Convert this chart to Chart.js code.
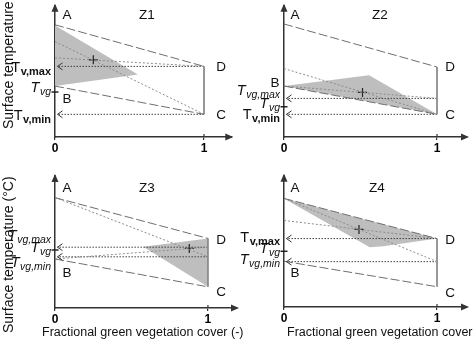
<!DOCTYPE html>
<html>
<head>
<meta charset="utf-8">
<script src="https://cdn.jsdelivr.net/npm/chart.js@4"></script>
<style>
html, body { margin: 0; padding: 0; background: #fff; }
#wrap { position: relative; width: 474px; height: 347px; overflow: hidden; }
.panel { position: absolute; }
</style>
</head>
<body>
<div id="wrap">
  <div class="panel" style="left:0;top:170px"><canvas id="c2"></canvas></div>
  <div class="panel" style="left:0;top:0"><canvas id="c0"></canvas></div>
  <div class="panel" style="left:237px;top:0"><canvas id="c1"></canvas></div>
  <div class="panel" style="left:237px;top:170px"><canvas id="c3"></canvas></div>
</div>
<script>
// ---- data (fractional cover on x, surface temperature in arbitrary units on y) ----
const panelNames = ['Z1', 'Z2', 'Z3', 'Z4'];
const fvTicks = [0, 1];
const tMax = 33;

// trapezoid corners: A (fv=0, dry), D (fv=1, dry), C (fv=1, wet), B (fv=0, wet)
const tA = [28.2, 28.4, 27.6, 27.3];
const tD = [17.75, 17.6, 17.4, 17.2];
const tC = [5.7, 5.7, 5.3, 5.1];
const tB = [12.8, 12.8, 12.25, 11.5];

// shaded areas, [fv, T] vertices
const shadeZ1 = [[0, 28.0], [0.556, 15.7], [0, 12.8]];
const shadeZ2 = [[0, 12.8], [0.556, 15.5], [1, 5.7]];
const shadeZ3 = [[0.577, 15.3], [1, 17.4], [1, 5.3]];
const shadeZ4 = [[0, 27.3], [1, 17.2], [0.65, 15.25], [0.56, 15.0]];

// dotted construction lines, pairs of [fv, T]
const guideZ1 = [[[0, 24.0], [1, 5.7]], [[0, 19.9], [1, 17.75]]];
const guideZ2 = [[[0, 17.2], [1, 5.7]], [[0, 12.8], [1, 9.7]]];
const guideZ3 = [[[0, 27.6], [1, 12.8]], [[0, 12.25], [1, 15.2]]];
const guideZ4 = [[[0, 21.75], [1, 17.2]], [[0, 27.3], [1, 11.4]]];

// temperatures read back onto the T axis
const arrowZ1 = [17.75, 5.7];
const arrowZ2 = [9.7, 5.7];
const arrowZ3 = [15.2, 12.8];
const arrowZ4 = [17.2, 11.4];

const tvgTick = [11.3, 7.6, 14.5, 14.0];
const crossFv = [0.257, 0.513, 0.878, 0.49];
const crossT = [19.4, 11.2, 14.9, 19.5];

const tLabelKinds = [['vmax', 'vg', 'vmin'], ['vgmax', 'vg', 'vmin'], ['vgmax', 'vg', 'vgmin'], ['vmax', 'vg', 'vgmin']];
const cornerNames = ['A', 'Z', 'D', 'C', 'B'];

const shades = [shadeZ1, shadeZ2, shadeZ3, shadeZ4];
const guides = [guideZ1, guideZ2, guideZ3, guideZ4];
const arrows = [arrowZ1, arrowZ2, arrowZ3, arrowZ4];

// ---- layout (page pixels) ----
const boxLeft = [0, 237, 0, 237];
const boxTop = [0, 0, 170, 170];
const boxW = [237, 237, 250, 237];
const boxH = [170, 170, 177, 177];
const padL = [55, 47, 55, 47];
const padT = [5, 5, 6, 5];
const padR = [1, 7, 13, 7];
const axisH = [33, 33, 39, 40];
const xMax = [1.183, 1.196, 1.19, 1.196];
const tLabelY = [[67, 87, 115], [90, 103, 114], [235, 247, 262], [237, 248, 259]];
const letterPos = [
  [[67, 15], [147, 15], [221, 67], [221, 115], [67, 99]],
  [[295, 15], [380, 15], [450, 67], [450, 115], [275, 83]],
  [[67, 188], [147, 188], [221, 240], [221, 292], [67, 273]],
  [[295, 188], [377, 188], [450, 240], [450, 293], [295, 273]]
];

const FONT = '"Liberation Sans", Arial, Helvetica, sans-serif';
const AXIS = '#333';

function pts(list) {
  return list.map(p => ({x: p[0], y: p[1]}));
}

function drawTLabel(ctx, kind, xr, yc) {
  const italic = kind.startsWith('vg');
  const sub = {vmax: 'v,max', vmin: 'v,min', vg: 'vg', vgmax: 'vg,max', vgmin: 'vg,min'}[kind];
  const mainFont = (italic ? 'italic ' : '') + '14.5px ' + FONT;
  const subFont = italic ? 'italic 10.5px ' + FONT : 'bold 11px ' + FONT;
  ctx.font = subFont;
  const ws = ctx.measureText(sub).width;
  ctx.font = mainFont;
  const wt = ctx.measureText('T').width;
  ctx.textAlign = 'left';
  ctx.textBaseline = 'alphabetic';
  const x0 = xr - ws - wt - 0.5;
  ctx.fillText('T', x0, yc + 5);
  ctx.font = subFont;
  ctx.fillText(sub, x0 + wt + 0.5, yc + 8);
}

const decor = {
  id: 'decor',
  afterDatasetsDraw(chart) {
    const i = chart.options.plugins.decor.panel;
    const {ctx, chartArea: ca} = chart;
    const xs = chart.scales.x, ys = chart.scales.y;
    const ox = boxLeft[i], oy = boxTop[i];
    ctx.save();
    ctx.fillStyle = AXIS;
    // axis arrowheads
    ctx.beginPath();
    ctx.moveTo(ca.left, ca.top - 2);
    ctx.lineTo(ca.left - 3.5, ca.top + 6);
    ctx.lineTo(ca.left + 3.5, ca.top + 6);
    ctx.closePath();
    ctx.fill();
    ctx.beginPath();
    ctx.moveTo(ca.right + 2, ca.bottom);
    ctx.lineTo(ca.right - 6, ca.bottom - 3.5);
    ctx.lineTo(ca.right - 6, ca.bottom + 3.5);
    ctx.closePath();
    ctx.fill();
    // tick mark at fv = 1 above the axis
    ctx.strokeStyle = AXIS;
    ctx.lineWidth = 1.2;
    ctx.beginPath();
    ctx.moveTo(xs.getPixelForValue(1), ca.bottom - 3);
    ctx.lineTo(xs.getPixelForValue(1), ca.bottom);
    ctx.stroke();
    // open heads on the read-back lines
    ctx.lineWidth = 1;
    arrows[i].forEach(t => {
      const x0 = xs.getPixelForValue(0) + 2.5;
      const y = ys.getPixelForValue(t);
      ctx.beginPath();
      ctx.moveTo(x0 + 5, y - 3.5);
      ctx.lineTo(x0, y);
      ctx.lineTo(x0 + 5, y + 3.5);
      ctx.stroke();
    });
    // corner letters and panel name
    ctx.fillStyle = '#111';
    ctx.textAlign = 'center';
    ctx.textBaseline = 'middle';
    ctx.font = '13.5px ' + FONT;
    cornerNames.forEach((n, k) => {
      const txt = n === 'Z' ? panelNames[i] : n;
      ctx.fillText(txt, letterPos[i][k][0] - ox, letterPos[i][k][1] - oy);
    });
    // temperature labels left of the axis
    const xr = ca.left - 4;
    tLabelKinds[i].forEach((k, j) => drawTLabel(ctx, k, xr, tLabelY[i][j] - oy));
    // axis titles
    ctx.fillStyle = '#111';
    if (i === 0 || i === 2) {
      ctx.save();
      ctx.translate(9, i === 0 ? 129 : 163);
      ctx.rotate(-Math.PI / 2);
      ctx.font = '14px ' + FONT;
      ctx.textAlign = 'left';
      ctx.textBaseline = 'middle';
      ctx.fillText('Surface temperature (°C)', 0, 0);
      ctx.restore();
    }
    if (i >= 2) {
      ctx.font = '12.5px ' + FONT;
      ctx.textAlign = 'left';
      ctx.textBaseline = 'middle';
      ctx.fillText('Fractional green vegetation cover (-)', i === 2 ? 42 : 50, 163);
    }
    ctx.restore();
  }
};

function buildPanel(i) {
  const canvas = document.getElementById('c' + i);
  canvas.width = boxW[i];
  canvas.height = boxH[i];
  const line = (data, color, dash, width) => ({
    data: data, showLine: true, fill: false, borderColor: color, borderWidth: width || 1,
    borderDash: dash, pointRadius: 0, clip: false, order: 0
  });
  const datasets = [];
  datasets.push({
    data: pts(shades[i]), showLine: true, fill: 'shape', backgroundColor: '#bebebe',
    borderWidth: 0, borderColor: 'rgba(0,0,0,0)', pointRadius: 0, order: 2
  });
  datasets.push(line(pts([[0, tA[i]], [1, tD[i]]]), '#6f6f6f', [9, 3]));
  datasets.push(line(pts([[0, tB[i]], [1, tC[i]]]), '#6f6f6f', [9, 3]));
  datasets.push(line(pts([[1, tD[i]], [1, tC[i]]]), '#8a8a8a', []));
  guides[i].forEach(g => datasets.push(line(pts(g), '#8c8c8c', [2, 2])));
  arrows[i].forEach(t => datasets.push(line(pts([[1, t], [0.016, t]]), '#404040', [1.5, 1.5])));
  datasets.push({
    data: [{x: crossFv[i], y: crossT[i]}], pointStyle: 'cross', pointRadius: 4.5,
    borderColor: '#222', borderWidth: 1.2, showLine: false, clip: false, order: 0
  });
  datasets.push({
    data: [{x: 0, y: tvgTick[i]}], pointStyle: 'line', pointRadius: 3.5,
    borderColor: '#222', borderWidth: 1.5, showLine: false, clip: false, order: 0
  });

  new Chart(canvas.getContext('2d'), {
    type: 'scatter',
    data: {datasets: datasets},
    options: {
      responsive: false,
      animation: false,
      events: [],
      layout: {padding: {left: padL[i], top: padT[i], right: padR[i], bottom: 0}},
      plugins: {legend: {display: false}, tooltip: {enabled: false}, decor: {panel: i}},
      scales: {
        x: {
          type: 'linear', min: 0, max: xMax[i],
          afterFit: s => { s.height = axisH[i]; },
          afterBuildTicks: s => { s.ticks = fvTicks.map(v => ({value: v})); },
          grid: {drawOnChartArea: false, drawTicks: true, tickLength: 3, color: AXIS, lineWidth: 1.2},
          border: {display: true, color: AXIS, width: 1.5},
          ticks: {font: {family: FONT, size: 12, weight: 'bold'}, color: '#000', padding: 1, maxRotation: 0}
        },
        y: {
          type: 'linear', min: 0, max: tMax,
          afterFit: s => { s.width = 0; },
          ticks: {display: false},
          grid: {display: false},
          border: {display: true, color: AXIS, width: 1.5}
        }
      }
    },
    plugins: [decor]
  });
}

[0, 1, 2, 3].forEach(buildPanel);
</script>
</body>
</html>
